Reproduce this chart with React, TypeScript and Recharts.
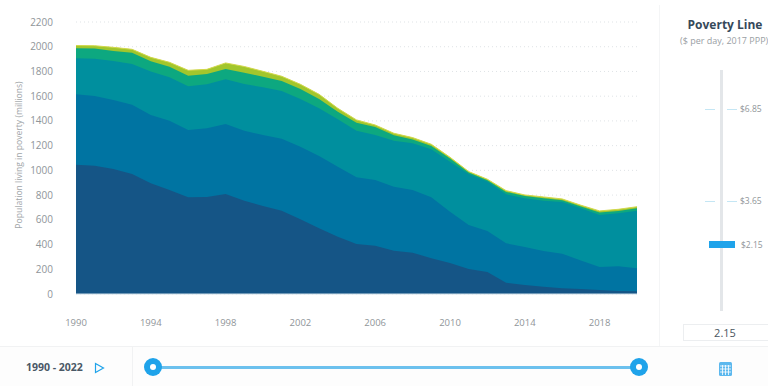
import { Area, AreaChart, CartesianGrid, XAxis, YAxis } from "recharts"

const years = [1990, 1991, 1992, 1993, 1994, 1995, 1996, 1997, 1998, 1999, 2000, 2001, 2002, 2003, 2004, 2005, 2006, 2007, 2008, 2009, 2010, 2011, 2012, 2013, 2014, 2015, 2016, 2017, 2018, 2019, 2020]

// cumulative population below each band's upper edge, millions
const band1 = [1046, 1038, 1011, 971, 895, 841, 782, 785, 809, 755, 712, 674, 604, 531, 464, 404, 391, 350, 334, 290, 250, 203, 177, 92, 72, 59, 47, 40, 32, 24, 22]
const band2 = [1616, 1602, 1570, 1531, 1448, 1402, 1327, 1340, 1375, 1321, 1286, 1256, 1191, 1116, 1030, 944, 922, 868, 841, 783, 666, 558, 510, 410, 380, 348, 326, 270, 218, 224, 208]
const band3 = [1906, 1903, 1885, 1861, 1799, 1753, 1680, 1696, 1737, 1699, 1672, 1642, 1577, 1502, 1413, 1321, 1286, 1240, 1219, 1170, 1070, 970, 909, 806, 774, 755, 744, 694, 639, 653, 674]
const band4 = [1987, 1985, 1965, 1952, 1882, 1839, 1766, 1780, 1820, 1790, 1758, 1723, 1658, 1577, 1475, 1385, 1350, 1285, 1250, 1197, 1095, 982, 920, 826, 792, 775, 759, 707, 660, 672, 693]
const band5 = [2010, 2008, 1995, 1979, 1914, 1874, 1809, 1817, 1869, 1840, 1801, 1761, 1696, 1615, 1502, 1408, 1367, 1300, 1265, 1211, 1106, 990, 928, 836, 801, 785, 769, 718, 672, 685, 706]

const yTicks = [0, 200, 400, 600, 800, 1000, 1200, 1400, 1600, 1800, 2000, 2200]
const xTicks = [1990, 1994, 1998, 2002, 2006, 2010, 2014, 2018]
const povertyTicks = [
  { label: "$6.85", top: 109 },
  { label: "$3.65", top: 201 },
]

const data = years.map((year, i) => ({
  year,
  band1: band1[i],
  band2: band2[i],
  band3: band3[i],
  band4: band4[i],
  band5: band5[i],
}))

const font = "'Open Sans', sans-serif"
const blue = "#1fa3ea"

function Knob({ left }: { left: number }) {
  return (
    <div
      style={{
        position: "absolute",
        left: left - 9,
        top: 358,
        width: 18,
        height: 18,
        borderRadius: 9,
        background: blue,
        display: "flex",
        alignItems: "center",
        justifyContent: "center",
      }}
    >
      <div style={{ width: 6, height: 6, borderRadius: 3, background: "#fff" }} />
    </div>
  )
}

function Dash({ left, top }: { left: number; top: number }) {
  return <div style={{ position: "absolute", left, top, width: 10, height: 1, background: "#c4e6f4" }} />
}

export default function App() {
  return (
    <div style={{ position: "absolute", left: 0, top: 0, width: 768, height: 386, overflow: "hidden", background: "#fff", fontFamily: font }}>
      <AreaChart width={660} height={340} data={data} margin={{ top: 22, right: 23, bottom: 0, left: 0 }}>
        <CartesianGrid horizontal vertical={false} stroke="#dfe3e6" strokeDasharray="1 3" />
        <XAxis
          dataKey="year"
          type="number"
          domain={[1990, 2020]}
          ticks={xTicks}
          height={46}
          tickLine={false}
          tickSize={0}
          tickMargin={25}
          axisLine={{ stroke: "#cfdfe8" }}
          tick={{ fontSize: 9.5, fill: "#8f9599", fontFamily: font }}
        />
        <YAxis
          domain={[0, 2200]}
          ticks={yTicks}
          width={76}
          tickLine={false}
          tickSize={0}
          tickMargin={23}
          axisLine={false}
          tick={{ fontSize: 10, fill: "#8f9599", fontFamily: font }}
          label={{
            value: "Population living in poverty (millions)",
            angle: -90,
            position: "insideLeft",
            offset: 0,
            dx: 19,
            dy: -3,
            style: { fontSize: 8.6, fill: "#a0a5a8", fontFamily: font, textAnchor: "middle" },
          }}
        />
        <Area dataKey="band5" type="linear" fill="#a2c62c" fillOpacity={1} stroke="#d3d84a" strokeWidth={1} isAnimationActive={false} />
        <Area dataKey="band4" type="linear" fill="#0da880" fillOpacity={1} stroke="none" isAnimationActive={false} />
        <Area dataKey="band3" type="linear" fill="#008f9e" fillOpacity={1} stroke="none" isAnimationActive={false} />
        <Area dataKey="band2" type="linear" fill="#0074a2" fillOpacity={1} stroke="none" isAnimationActive={false} />
        <Area dataKey="band1" type="linear" fill="#155586" fillOpacity={1} stroke="none" isAnimationActive={false} />
      </AreaChart>

      {/* poverty line panel */}
      <div style={{ position: "absolute", left: 659, top: 5, width: 1, height: 341, background: "#f4f5f6" }} />
      <div style={{ position: "absolute", left: 660, top: 16, width: 130, textAlign: "center", fontSize: 12, fontWeight: 700, color: "#36495a", whiteSpace: "nowrap" }}>
        Poverty Line
      </div>
      <div style={{ position: "absolute", left: 680, top: 34, fontSize: 9, color: "#9aa0a4", whiteSpace: "nowrap" }}>
        ($ per day, 2017 PPP)
      </div>
      <div style={{ position: "absolute", left: 720, top: 70, width: 3, height: 241, background: "#e3e6e9" }} />
      {povertyTicks.map((t) => (
        <div key={t.label}>
          <Dash left={705} top={t.top} />
          <Dash left={727} top={t.top} />
          <div style={{ position: "absolute", left: 740, top: t.top - 7, fontSize: 8.5, lineHeight: "14px", color: "#8f9599" }}>{t.label}</div>
        </div>
      ))}
      <div style={{ position: "absolute", left: 709, top: 241, width: 26, height: 7, background: blue }} />
      <div style={{ position: "absolute", left: 741, top: 238, fontSize: 8.5, lineHeight: "14px", color: "#8f9599" }}>$2.15</div>
      <div
        style={{
          position: "absolute",
          left: 683,
          top: 324,
          width: 90,
          height: 17,
          border: "1px solid #eceef0",
          boxSizing: "border-box",
          paddingRight: 6,
          textAlign: "center",
          fontSize: 11,
          lineHeight: "15px",
          color: "#4a5560",
        }}
      >
        2.15
      </div>

      {/* year range bar */}
      <div style={{ position: "absolute", left: 0, top: 346, width: 768, height: 40, background: "#fdfdfd", borderTop: "1px solid #f1f2f3", boxSizing: "border-box" }} />
      <div style={{ position: "absolute", left: 132, top: 346, width: 1, height: 40, background: "#f1f2f3" }} />
      <div style={{ position: "absolute", left: 26, top: 359, fontSize: 10.5, lineHeight: "16px", fontWeight: 700, color: "#4a5866", whiteSpace: "nowrap" }}>
        1990 - 2022
      </div>
      <svg style={{ position: "absolute", left: 94, top: 362 }} width={11} height={12}>
        <path d="M1.5 1.5 L9.5 6 L1.5 10.5 Z" fill="none" stroke={blue} strokeWidth={1.2} />
      </svg>
      <div style={{ position: "absolute", left: 153, top: 365.5, width: 486, height: 3, background: "#6cc1ee" }} />
      <Knob left={153} />
      <Knob left={639} />
      <svg style={{ position: "absolute", left: 719, top: 362 }} width={13} height={14}>
        <rect x={0} y={0} width={13} height={14} rx={1.5} fill="#5cb8ee" />
        {[4, 7, 10].map((y) => (
          <line key={y} x1={1} x2={12} y1={y} y2={y} stroke="#fff" strokeWidth={0.8} />
        ))}
        {[3.5, 6.5, 9.5].map((x) => (
          <line key={x} x1={x} x2={x} y1={3} y2={13} stroke="#fff" strokeWidth={0.8} />
        ))}
      </svg>
    </div>
  )
}
